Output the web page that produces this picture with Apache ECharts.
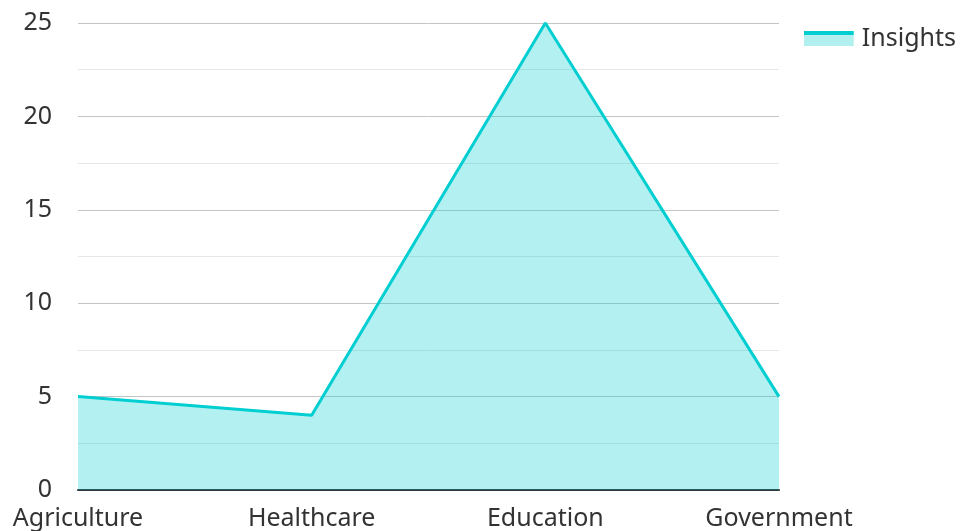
<!DOCTYPE html>
<html>
<head>
<meta charset="utf-8">
<script src="https://cdn.jsdelivr.net/npm/echarts@6/dist/echarts.min.js"></script>
<style>
  html, body { margin: 0; padding: 0; background: #fff; }
  #chart { width: 961px; height: 531px; }
</style>
</head>
<body>
<div id="chart"></div>
<script>
const categories = ['Agriculture', 'Healthcare', 'Education', 'Government']
const insights = [5, 4, 25, 5]

// legend icon: solid line on top of the light area fill
const legendSvg = '<svg xmlns="http://www.w3.org/2000/svg" width="50" height="15">' +
  '<rect x="0" y="0" width="50" height="15" fill="#b2efef"/>' +
  '<rect x="0" y="0" width="50" height="4" fill="#00CED1"/></svg>'
const legendIcon = 'image://data:image/svg+xml;charset=utf-8,' + encodeURIComponent(legendSvg)

const chart = echarts.init(document.getElementById('chart'))
const font = '"Noto Sans", sans-serif'
chart.setOption({
  animation: false,
  textStyle: { fontFamily: font },
  grid: {
    left: 78,
    right: 182,
    top: 23,
    bottom: 41,
    containLabel: false,
    outerBoundsMode: 'none'
  },
  legend: {
    top: 21,
    right: 0,
    itemWidth: 50,
    itemHeight: 15,
    itemGap: 8,
    padding: [5, 5, 5, 5],
    textStyle: { fontSize: 25, color: '#333', fontFamily: font, padding: [0, 0, 0, 3] },
    data: [{ name: 'Insights', icon: legendIcon }]
  },
  xAxis: {
    type: 'category',
    data: categories,
    boundaryGap: false,
    axisLine: { lineStyle: { color: '#333', width: 2 } },
    axisTick: { show: false },
    axisLabel: { fontSize: 25, color: '#333', margin: 16, fontFamily: font }
  },
  yAxis: {
    type: 'value',
    min: 0,
    max: 25,
    interval: 5,
    axisLine: { show: false },
    axisTick: { show: false },
    axisLabel: { fontSize: 25, color: '#333', margin: 26, fontFamily: font },
    splitLine: { lineStyle: { color: '#c4c4c4', width: 1 } },
    minorTick: { show: false, splitNumber: 2 },
    minorSplitLine: { show: true, lineStyle: { color: '#e6e6e6', width: 1 } }
  },
  series: [{
    name: 'Insights',
    type: 'line',
    data: insights,
    symbol: 'none',
    lineStyle: { color: '#00CED1', width: 3 },
    itemStyle: { color: '#00CED1' },
    areaStyle: { color: '#00CED1', opacity: 0.3 }
  }]
})
</script>
</body>
</html>
